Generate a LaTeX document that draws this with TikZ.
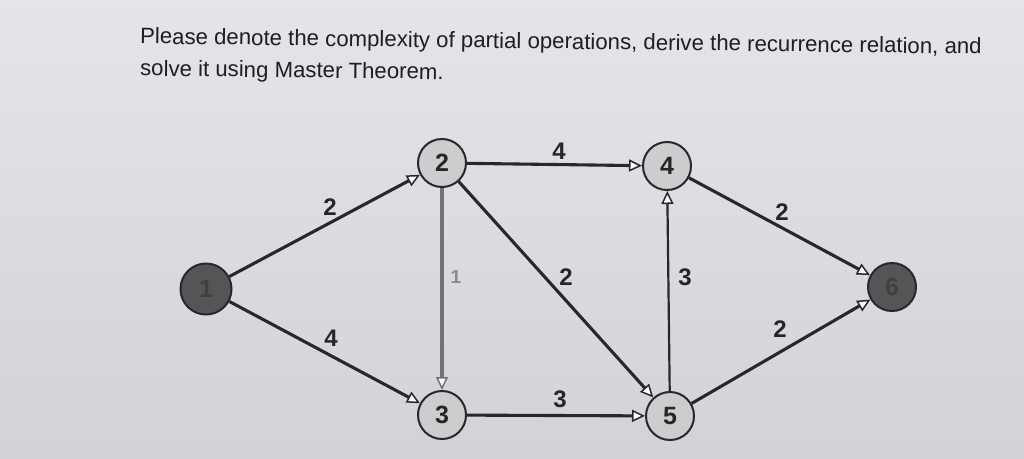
\documentclass[tikz,border=0pt]{standalone}
\usepackage{fontspec}
\setmainfont{Liberation Sans}
\usetikzlibrary{arrows.meta,shadings}
\definecolor{bgtop}{RGB}{228,228,233}
\definecolor{bgbot}{RGB}{210,210,215}
\definecolor{edgec}{RGB}{40,40,43}
\definecolor{lightn}{RGB}{205,205,208}
\definecolor{darkn}{RGB}{85,85,88}
\tikzset{
  vtx/.style={circle, draw=edgec, line width=2pt, minimum size=48pt, inner sep=0pt, fill=lightn, font=\fontsize{25}{25}\selectfont\bfseries, text=black!85},
  dvtx/.style={vtx, fill=darkn, text=black!75},
  wedge/.style={draw=edgec, line width=3.1pt, -{Triangle[fill=white, length=13pt, width=12pt, line width=1.5pt]}},
  wlab/.style={font=\fontsize{24}{24}\selectfont\bfseries, text=black!85, inner sep=0pt},
  qtext/.style={font=\fontsize{22.2}{26}\selectfont, text=black!88, anchor=west, inner sep=0pt}
}
\begin{document}
\begin{tikzpicture}[x=1pt,y=-1pt]
\useasboundingbox (0,0) rectangle (1024,458);
\shade[top color=bgtop, bottom color=bgbot] (0,0) rectangle (1024,458);
\node[qtext, rotate=-0.7] (q1) at (140,38) {Please denote the complexity of partial operations, derive the recurrence relation, and};
\node[qtext, rotate=-0.7] (q2) at (140,70) {solve it using Master Theorem.};
\node[dvtx, minimum size=51pt] (n1) at (206,289) {1};
\node[vtx] (n2) at (442,163) {2};
\node[vtx] (n3) at (442,415) {3};
\node[vtx] (n4) at (667,166) {4};
\node[vtx] (n5) at (670,416) {5};
\node[dvtx] (n6) at (892,287) {6};
\draw[wedge] (n1) -- (n2);
\draw[wedge] (n1) -- (n3);
\draw[wedge, line width=3.2pt, draw=black!55] (n2) -- (n3);
\draw[wedge] (n2) -- (n4);
\draw[wedge] (n2) -- (n5);
\draw[wedge] (n3) -- (n5);
\draw[wedge, line width=2.2pt] (n5) -- (n4);
\draw[wedge] (n4) -- (n6);
\draw[wedge] (n5) -- (n6);
\node[wlab] (l12) at (330,207) {2};
\node[wlab] (l13) at (331,338) {4};
\node[wlab, text=black!45, font=\fontsize{19}{19}\selectfont\bfseries] (l23) at (456,277) {1};
\node[wlab] (l24) at (559,151) {4};
\node[wlab] (l25) at (566,277) {2};
\node[wlab] (l35) at (560,399) {3};
\node[wlab] (l54) at (685,277) {3};
\node[wlab] (l46) at (782,212) {2};
\node[wlab] (l56) at (780,329) {2};
\end{tikzpicture}
\end{document}
